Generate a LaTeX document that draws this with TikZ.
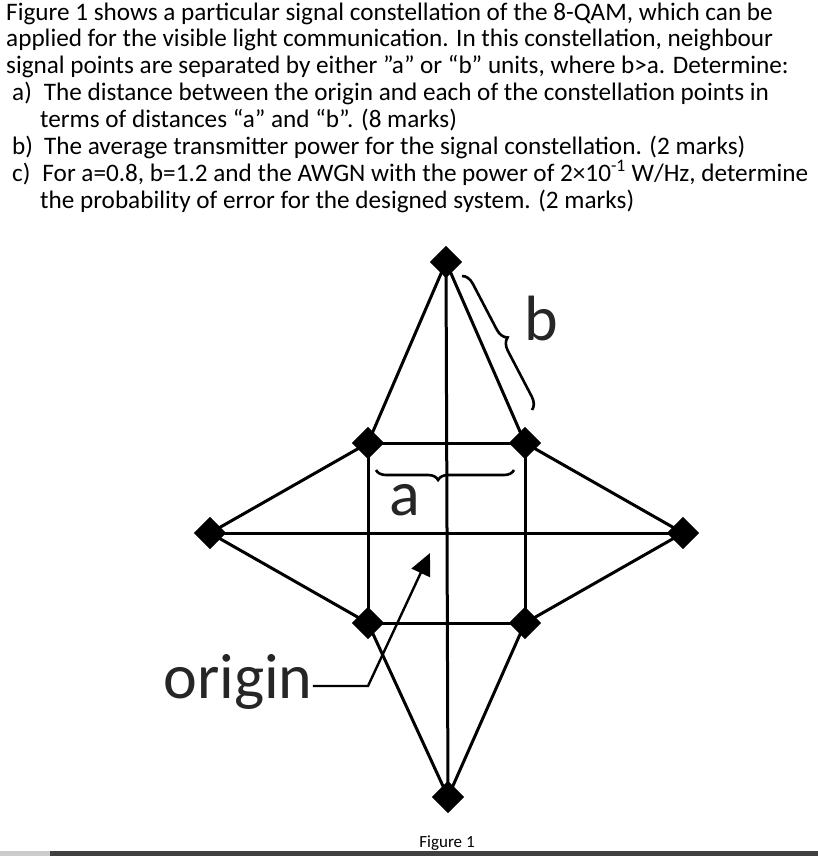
\documentclass[tikz,border=0pt]{standalone}
\usepackage{fontspec}
\setmainfont{Carlito}
\usetikzlibrary{shapes.geometric,decorations.pathreplacing,arrows.meta}
\begin{document}
\begin{tikzpicture}[x=1pt,y=-1pt,
  txt/.style={anchor=base west,inner sep=0pt,font=\fontsize{25.2}{28}\selectfont},
  pt/.style={diamond,fill=black,minimum size=32pt,inner sep=0pt},
  ln/.style={line width=3pt},
  big/.style={inner sep=0pt,font=\fontsize{64}{70}\selectfont,text=black!85}]
\useasboundingbox (0,0) rectangle (818,856);
\node[txt] (l1) at (6,21) {Figure 1 shows a particular signal constellation of the 8-QAM, which can be};
\node[txt] (l2) at (6,47) {applied for the visible light communication. In this constellation, neighbour};
\node[txt] (l3) at (6,74) {signal points are separated by either ”a” or “b” units, where b>a. Determine:};
\node[txt] (l4) at (12,101) {a)\hspace{12pt}The distance between the origin and each of the constellation points in};
\node[txt] (l5) at (40,128) {terms of distances “a” and “b”. (8 marks)};
\node[txt] (l6) at (12,154) {b)\hspace{11pt}The average transmitter power for the signal constellation. (2 marks)};
\node[txt] (l7) at (12,181) {c)\hspace{12pt}For a=0.8, b=1.2 and the AWGN with the power of 2×10\textsuperscript{-1} W/Hz, determine};
\node[txt] (l8) at (40,208) {the probability of error for the designed system. (2 marks)};

\node[pt] (T) at (446,262) {};
\node[pt] (B) at (448,797) {};
\node[pt] (L) at (210,533) {};
\node[pt] (R) at (683,533) {};
\node[pt] (UL) at (368,443) {};
\node[pt] (UR) at (525,443) {};
\node[pt] (LL) at (368,623) {};
\node[pt] (LR) at (525,623) {};
\draw[ln] (T.center) -- (B.center);
\draw[ln] (L.center) -- (R.center);
\draw[ln] (UL.center) -- (UR.center) -- (LR.center) -- (LL.center) -- cycle;
\draw[ln] (T.center) -- (UL.center) (T.center) -- (UR.center);
\draw[ln] (B.center) -- (LL.center) (B.center) -- (LR.center);
\draw[ln] (L.center) -- (UL.center) (L.center) -- (LL.center);
\draw[ln] (R.center) -- (UR.center) (R.center) -- (LR.center);
\foreach \n in {T,B,L,R,UL,UR,LL,LR} \node[pt] at (\n) {};

\coordinate (b1) at (462,276);
\coordinate (b2) at (532,410);
\draw[line width=2.6pt,decorate,decoration={brace,amplitude=12pt}] (b1) -- (b2);
\node[big,anchor=west] (blab) at (524,318) {b};
\coordinate (a1) at (376,470);
\coordinate (a2) at (514,470);
\draw[line width=2.6pt,decorate,decoration={brace,amplitude=10pt,aspect=0.55}] (a2) -- (a1);
\node[big] (alab) at (405,500) {a};

\node[big] (orig) at (238,682) {origin};
\coordinate (O) at (430,553);
\draw[line width=2.4pt,-{Triangle[length=22pt,width=20pt]}] (orig.east) ++(0,4) -- (368,686) -- (O);

\node[inner sep=0pt,font=\fontsize{17}{19}\selectfont] (cap) at (447,843) {Figure 1};
\fill[black!20] (0,851) rectangle (50,856);
\fill[black!75] (50,851) rectangle (818,856);
\end{tikzpicture}
\end{document}
